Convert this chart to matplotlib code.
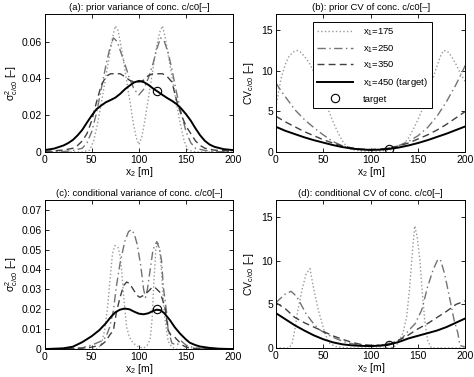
import matplotlib
matplotlib.use("Agg")
import matplotlib.pyplot as plt
from matplotlib.ticker import FuncFormatter

plt.rcParams['font.family'] = ['Liberation Sans', 'DejaVu Sans']
plt.rcParams['mathtext.fontset'] = 'custom'
plt.rcParams['mathtext.rm'] = 'Liberation Sans'
plt.rcParams['mathtext.it'] = 'Liberation Sans:italic'
plt.rcParams['mathtext.bf'] = 'Liberation Sans:bold'

# legend labels for the four transects
labels = ["x$_1$=175", "x$_1$=250", "x$_1$=350", "x$_1$=450 (target)"]

# (a) prior variance
a175_x = [0, 40, 48, 52, 56, 60, 64, 68, 72, 75, 78, 82, 86, 90, 94, 97, 100, 103, 106, 110, 114, 118, 122, 125, 128, 132, 136, 140, 144, 148, 152, 160, 200]
a175_y = [0, 0, 0.001, 0.006, 0.015, 0.026, 0.038, 0.050, 0.062, 0.0685, 0.066, 0.055, 0.042, 0.029, 0.016, 0.008, 0.004, 0.008, 0.016, 0.029, 0.042, 0.055, 0.065, 0.0685, 0.062, 0.050, 0.038, 0.026, 0.015, 0.006, 0.001, 0, 0]
a250_x = [0, 20, 30, 40, 45, 50, 55, 60, 65, 69, 73, 77, 81, 85, 90, 95, 100, 105, 110, 115, 119, 123, 127, 131, 135, 140, 145, 150, 155, 160, 170, 180, 200]
a250_y = [0, 0.0002, 0.0008, 0.002, 0.005, 0.011, 0.021, 0.034, 0.047, 0.056, 0.062, 0.060, 0.054, 0.048, 0.040, 0.034, 0.031, 0.034, 0.040, 0.048, 0.056, 0.062, 0.060, 0.054, 0.045, 0.032, 0.021, 0.011, 0.005, 0.002, 0.0008, 0.0002, 0]
a350_x = [0, 20, 30, 35, 40, 45, 50, 55, 60, 65, 70, 80, 85, 90, 95, 100, 105, 110, 115, 125, 130, 135, 140, 145, 150, 155, 160, 165, 170, 180, 200]
a350_y = [0.0003, 0.001, 0.002, 0.0035, 0.006, 0.010, 0.017, 0.027, 0.036, 0.041, 0.0425, 0.0425, 0.041, 0.039, 0.038, 0.038, 0.039, 0.0415, 0.0425, 0.0425, 0.041, 0.038, 0.028, 0.020, 0.014, 0.010, 0.006, 0.0035, 0.002, 0.001, 0.0003]
a450_x = [0, 10, 20, 25, 30, 35, 40, 45, 50, 55, 60, 65, 70, 75, 80, 85, 90, 95, 100, 105, 110, 115, 120, 125, 130, 135, 140, 145, 150, 155, 160, 165, 170, 175, 180, 190, 200]
a450_y = [0.001, 0.0018, 0.0035, 0.0048, 0.0065, 0.009, 0.012, 0.016, 0.0198, 0.0232, 0.0252, 0.027, 0.0282, 0.0295, 0.0315, 0.034, 0.036, 0.0378, 0.0386, 0.038, 0.0365, 0.0345, 0.0328, 0.031, 0.0293, 0.0278, 0.026, 0.0235, 0.0205, 0.017, 0.0128, 0.009, 0.006, 0.004, 0.0028, 0.0015, 0.001]

# (b) prior CV
b175_x = [0, 3, 6, 10, 14, 18, 22, 26, 30, 35, 40, 45, 50, 55, 60, 65, 70, 75, 80, 90, 100, 110, 120, 125, 130, 135, 140, 145, 150, 155, 160, 165, 170, 174, 177, 181, 185, 190, 195, 200]
b175_y = [5.5, 7.5, 9.3, 10.8, 11.8, 12.3, 12.5, 12.3, 11.8, 11.0, 9.9, 8.5, 6.9, 5.3, 3.8, 2.5, 1.4, 0.6, 0.3, 0.12, 0.08, 0.1, 0.25, 0.4, 0.6, 1.0, 1.7, 2.8, 4.0, 5.4, 7.0, 8.8, 10.6, 11.9, 12.5, 12.4, 11.8, 10.8, 9.6, 8.6]
b250_x = [0, 5, 10, 15, 20, 25, 30, 40, 50, 60, 70, 80, 90, 100, 110, 120, 130, 140, 150, 160, 170, 180, 190, 200]
b250_y = [8.5, 7.6, 6.8, 6.0, 5.2, 4.6, 4.0, 3.0, 2.1, 1.3, 0.75, 0.4, 0.28, 0.25, 0.3, 0.5, 0.8, 1.3, 2.0, 3.0, 4.4, 6.2, 8.3, 10.7]
b350_x = [0, 10, 20, 30, 40, 50, 60, 70, 80, 90, 100, 110, 120, 130, 140, 150, 160, 170, 180, 190, 200]
b350_y = [4.4, 3.7, 3.1, 2.5, 2.0, 1.5, 1.1, 0.75, 0.5, 0.35, 0.3, 0.35, 0.5, 0.75, 1.1, 1.6, 2.1, 2.7, 3.4, 4.2, 5.0]
b450_x = [0, 10, 20, 30, 40, 50, 60, 70, 80, 90, 100, 110, 120, 130, 140, 150, 160, 170, 180, 190, 200]
b450_y = [3.1, 2.6, 2.2, 1.8, 1.45, 1.15, 0.85, 0.6, 0.42, 0.3, 0.25, 0.28, 0.38, 0.55, 0.8, 1.1, 1.45, 1.85, 2.25, 2.7, 3.15]

# (c) conditional variance
c175_x = [0, 55, 60, 64, 67, 70, 72, 74.5, 78, 80, 82, 84, 87, 90, 94, 100, 105, 109, 112, 114, 116, 118, 120, 122, 124, 127, 131, 135, 140, 200]
c175_y = [0, 0, 0.002, 0.010, 0.022, 0.038, 0.048, 0.052, 0.051, 0.047, 0.038, 0.026, 0.011, 0.006, 0.003, 0.001, 0.0005, 0.002, 0.005, 0.015, 0.035, 0.050, 0.054, 0.050, 0.039, 0.0175, 0.004, 0.001, 0, 0]
c250_x = [0, 40, 45, 50, 55, 60, 65, 69, 73, 76, 80, 85, 89, 92, 95, 98, 102, 105, 107, 109, 112, 115, 119, 122, 124, 126, 129.5, 131, 135, 140, 145, 150, 160, 200]
c250_y = [0, 0.0005, 0.0015, 0.002, 0.003, 0.004, 0.006, 0.011, 0.0195, 0.031, 0.043, 0.054, 0.059, 0.060, 0.058, 0.053, 0.042, 0.030, 0.026, 0.030, 0.040, 0.050, 0.054, 0.050, 0.0445, 0.031, 0.018, 0.0095, 0.003, 0.002, 0.004, 0.002, 0.0005, 0]
c350_x = [0, 40, 50, 60, 65, 69, 73, 76, 80, 84, 87, 90, 94, 98, 101, 105, 110, 114, 117, 122, 125, 128, 131, 134, 138, 142, 146, 150, 160, 200]
c350_y = [0, 0.0005, 0.001, 0.002, 0.004, 0.007, 0.0095, 0.018, 0.026, 0.032, 0.0337, 0.033, 0.030, 0.027, 0.026, 0.027, 0.029, 0.031, 0.031, 0.0287, 0.025, 0.020, 0.0095, 0.007, 0.006, 0.004, 0.002, 0.001, 0.0003, 0]
c450_x = [0, 20, 30, 40, 50, 58, 65, 70, 75, 80, 85, 90, 95, 100, 105, 110, 115, 119, 123, 127, 133, 138, 143.6, 150, 154, 160, 165, 175, 185, 200]
c450_y = [0, 0.0004, 0.0012, 0.0035, 0.0065, 0.0095, 0.013, 0.016, 0.0185, 0.0198, 0.0204, 0.020, 0.0188, 0.0178, 0.0175, 0.018, 0.0192, 0.0198, 0.0195, 0.018, 0.0145, 0.011, 0.0078, 0.0048, 0.0032, 0.002, 0.0013, 0.0006, 0.0002, 0]

# (d) conditional CV
d175_x = [0, 14, 17, 20, 23, 28, 32, 36, 39, 44, 48, 52, 56, 62, 70, 80, 120, 126, 129, 134, 138, 141, 144, 146.5, 149, 152, 154, 157, 160, 164, 200]
d175_y = [0, 0, 0.5, 2.1, 4.2, 6.9, 8.5, 9.1, 7.3, 4.7, 3.1, 1.6, 0.6, 0.2, 0.05, 0, 0, 0.2, 0.55, 1.7, 3.6, 6.8, 11.0, 14.0, 12.8, 10.0, 7.0, 3.2, 0.9, 0, 0]
d250_x = [0, 5, 10, 16, 22, 27, 32, 39, 46, 55, 65, 75, 85, 95, 105, 115, 125, 133, 140, 147, 154, 160, 166, 171, 174, 178, 183, 188, 192, 194, 200]
d250_y = [5.2, 5.7, 6.2, 6.5, 5.9, 4.9, 3.9, 2.9, 2.1, 1.5, 1.0, 0.6, 0.4, 0.3, 0.3, 0.4, 0.7, 1.1, 2.0, 2.8, 4.4, 7.0, 9.0, 10.2, 10.0, 8.5, 5.9, 3.2, 1.7, 0.3, 0.1]
d350_x = [0, 10, 20, 30, 40, 50, 60, 70, 80, 90, 100, 110, 120, 130, 140, 150, 160, 170, 180, 190, 200]
d350_y = [5.2, 4.5, 3.5, 2.9, 2.4, 1.9, 1.4, 1.0, 0.65, 0.4, 0.3, 0.3, 0.45, 0.9, 1.5, 2.2, 2.8, 3.5, 4.2, 5.0, 5.4]
d450_x = [0, 10, 20, 30, 40, 50, 60, 70, 80, 90, 100, 110, 118, 130, 140, 150, 160, 170, 180, 190, 200]
d450_y = [4.0, 3.3, 2.6, 2.0, 1.45, 1.0, 0.65, 0.42, 0.3, 0.24, 0.22, 0.26, 0.35, 0.7, 1.1, 1.4, 1.7, 2.0, 2.4, 2.9, 3.4]

target_x = 119
target_y = [0.033, 0.3, 0.0203, 0.35]

titles = ["(a): prior variance of conc. c/c0[–]",
          "(b): prior CV of conc. c/c0[–]",
          "(c): conditional variance of conc. c/c0[–]",
          "(d): conditional CV of conc. c/c0[–]"]

var_label = r"$\mathregular{\sigma^2_{c/c0}}$ [–]"
cv_label = r"CV$_{\mathregular{c/c0}}$ [–]"

styles = [dict(ls=":", color="0.6", lw=1.0),
          dict(ls="-.", color="0.45", lw=1.0, dashes=(6, 2.5, 1, 2.5)),
          dict(ls="--", color="0.25", lw=1.0, dashes=(5, 3)),
          dict(ls="-", color="black", lw=1.4)]

panels = [
    [(a175_x, a175_y), (a250_x, a250_y), (a350_x, a350_y), (a450_x, a450_y)],
    [(b175_x, b175_y), (b250_x, b250_y), (b350_x, b350_y), (b450_x, b450_y)],
    [(c175_x, c175_y), (c250_x, c250_y), (c350_x, c350_y), (c450_x, c450_y)],
    [(d175_x, d175_y), (d250_x, d250_y), (d350_x, d350_y), (d450_x, d450_y)],
]

positions = [[0.094, 0.597, 0.398, 0.366],
             [0.582, 0.597, 0.400, 0.366],
             [0.094, 0.074, 0.398, 0.396],
             [0.582, 0.077, 0.400, 0.393]]

fig = plt.figure(figsize=(4.74, 3.77), dpi=100)

def fmt(v, pos):
    if abs(v) < 1e-12:
        return "0"
    return ("%g" % round(v, 4))

for i in range(4):
    ax = fig.add_axes(positions[i])
    handles = []
    for (xs, ys), st, lab in zip(panels[i], styles, labels):
        h, = ax.plot(xs, ys, label=lab, **st)
        handles.append(h)
    t, = ax.plot([target_x], [target_y[i]], ls="none", marker="o", ms=6,
                 mfc="none", mec="black", mew=0.8, label="target")
    handles.append(t)

    ax.set_xlim(0, 200)
    ax.set_xticks([0, 50, 100, 150, 200])
    if i in (0, 2):
        ax.set_ylim(0, 0.075)
        if i == 0:
            ax.set_yticks([0, 0.02, 0.04, 0.06])
        else:
            ax.set_yticks([0, 0.01, 0.02, 0.03, 0.04, 0.05, 0.06, 0.07])
        ax.set_ylabel(var_label, fontsize=7.5, labelpad=1)
    else:
        ax.set_ylim(0, 17)
        ax.set_yticks([0, 5, 10, 15])
        ax.set_ylabel(cv_label, fontsize=7.5, labelpad=4)
    ax.yaxis.set_major_formatter(FuncFormatter(fmt))
    ax.set_xlabel("x$_2$ [m]", fontsize=7.5, labelpad=0)
    ax.set_title(titles[i], fontsize=6.8, pad=3)
    ax.tick_params(direction="in", top=True, right=True, length=3,
                   width=0.6, labelsize=7.5, pad=2)
    for sp in ax.spines.values():
        sp.set_linewidth(0.7)

    if i == 1:
        leg = ax.legend(handles=handles, loc="upper center",
                        bbox_to_anchor=(0.51, 0.975), fontsize=6.8,
                        handlelength=3.8, labelspacing=0.55,
                        handletextpad=1.1, borderpad=0.45, fancybox=False,
                        framealpha=1, edgecolor="black")
        leg.get_frame().set_linewidth(0.7)

fig.savefig("out.png", dpi=100)
